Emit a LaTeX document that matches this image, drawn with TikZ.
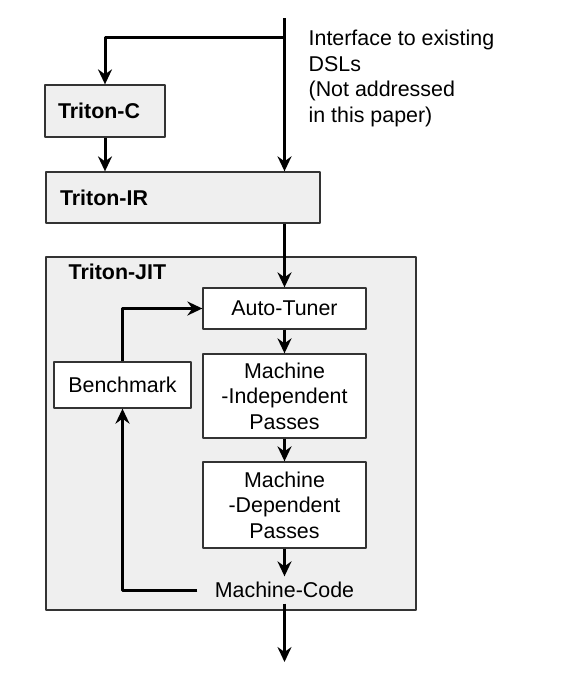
\documentclass[tikz,border=0pt]{standalone}
\usepackage{fontspec}
\setmainfont{Liberation Sans}
\usetikzlibrary{arrows.meta}
\definecolor{boxgray}{HTML}{EFEFEF}
\begin{document}
\begin{tikzpicture}[x=1pt,y=-1pt,line join=round,>={Stealth[length=15pt,width=14pt,inset=5pt]},line width=3pt]
\tikzset{every node/.style={font=\fontsize{21.4}{25.5}\selectfont,line width=1.3pt},
  graybox/.style={draw=black!80,fill=boxgray,inner ysep=0pt,align=left,font=\fontsize{21.4}{25.5}\selectfont\bfseries},
  passbox/.style={draw=black!80,fill=white,inner sep=0pt,align=center,minimum width=163}}
\useasboundingbox (0,0) rectangle (562,696);
% front end
\node[graybox,minimum height=52,inner xsep=13,text width=94] (tc) at (105,111) {Triton-C};
\node[graybox,minimum height=51,inner xsep=14,text width=246] (tir) at (183,197.5) {Triton-IR};
\node[anchor=north west,inner sep=0pt,align=left] (dsl) at (308,29.5) {Interface to existing\\DSLs\\(Not addressed\\in this paper)};
% jit
\node[draw=black!80,fill=boxgray,minimum width=370,minimum height=353,inner sep=0pt] (jit) at (231,433.5) {};
\node[anchor=west,inner sep=0pt,font=\fontsize{21.4}{25.5}\selectfont\bfseries] (jitlabel) at (68,272) {Triton-JIT};
\node[passbox,minimum height=41] (at) at (284.5,308.5) {Auto-Tuner};
\node[passbox,minimum height=84] (mi) at (284.5,396) {Machine\\-Independent\\Passes};
\node[passbox,minimum height=86] (md) at (284.5,505) {Machine\\-Dependent\\Passes};
\node[inner xsep=17pt,inner ysep=0pt,minimum height=26] (mc) at (284.5,590) {Machine-Code};
\node[passbox,minimum width=137,minimum height=46] (bm) at (122.5,385) {Benchmark};
\coordinate (top) at (284.5,18);
\coordinate (split) at (284.5,37);
\coordinate (out) at (284.5,662);
% connectors
\draw[->] (top) -- (top |- tir.north);
\draw[->] (split) -| (tc.north);
\draw[->] (tc) -- (tc |- tir.north);
\draw[->] (tir.south -| at) -- (at);
\draw[->] (at) -- (mi);
\draw[->] (mi) -- (md);
\draw[->] (md) -- (mc);
\draw[->] (mc.west) -| (bm.south);
\draw[->] (bm.north) |- (at.west);
\draw[->] (mc) -- (out);
\end{tikzpicture}
\end{document}
